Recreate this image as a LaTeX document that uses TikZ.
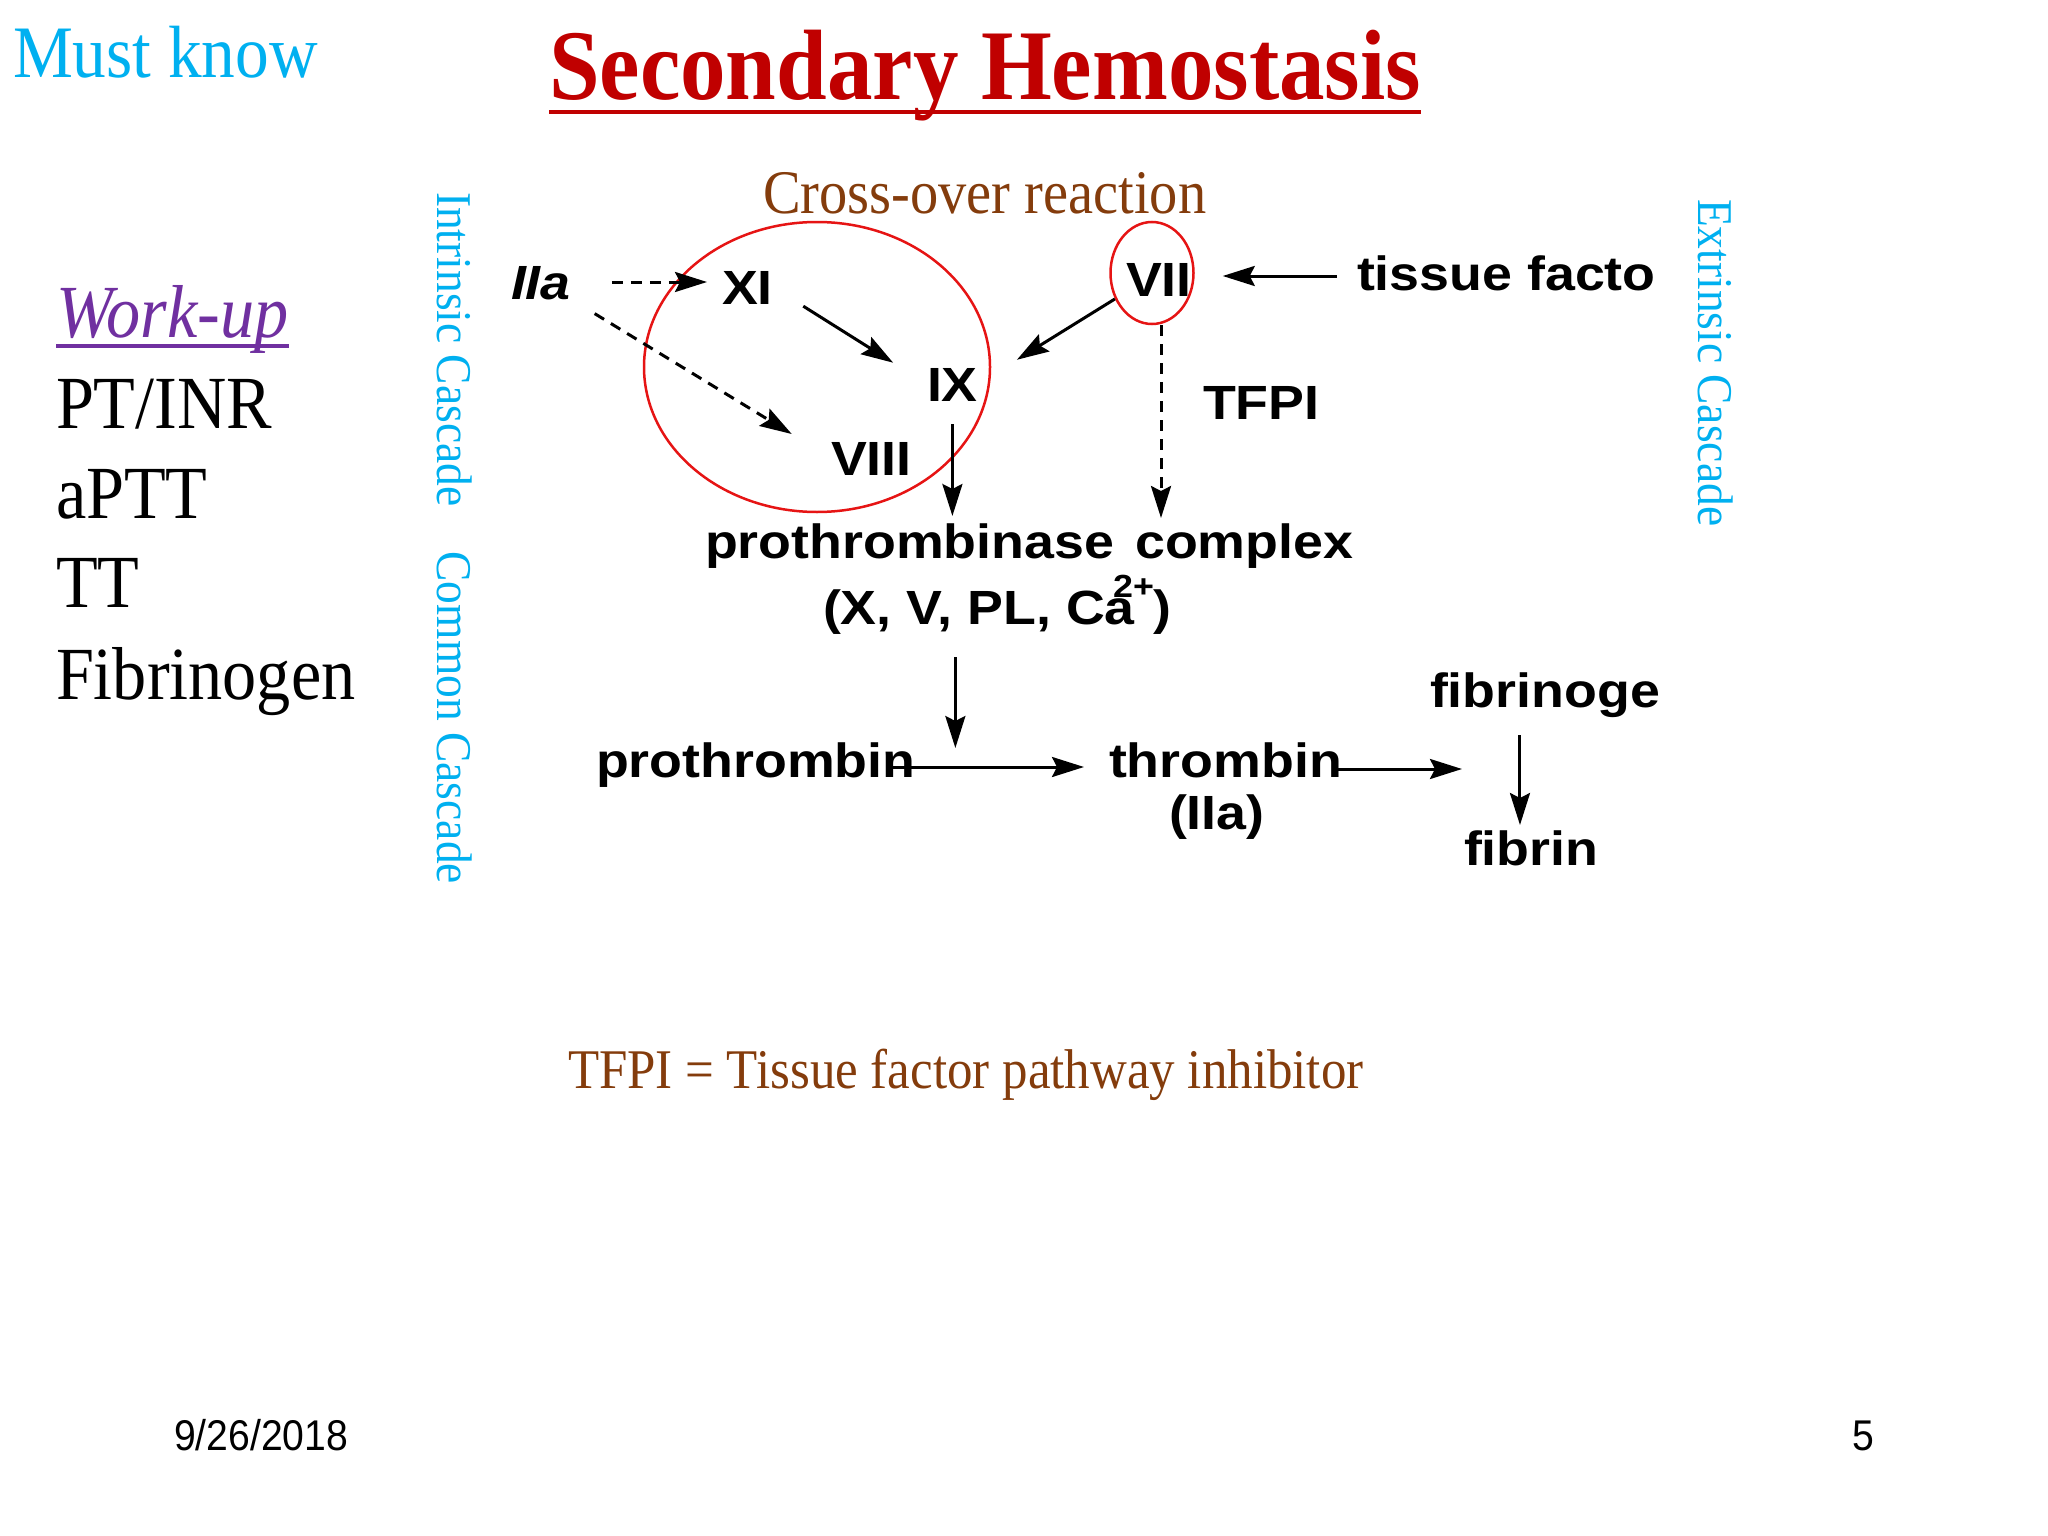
\documentclass[tikz,border=0pt]{standalone}
\usepackage{fontspec}
\setmainfont[FakeStretch=0.91]{Liberation Serif}
\newfontfamily\dfont[FakeStretch=1.12]{Liberation Sans}
\newfontfamily\ffont[FakeStretch=0.91]{Liberation Sans}
\usetikzlibrary{arrows.meta,shapes.geometric,calc}
\definecolor{cyanblue}{RGB}{0,176,240}
\definecolor{titlered}{RGB}{192,0,0}
\definecolor{wpurple}{RGB}{112,48,160}
\definecolor{rbrown}{RGB}{132,60,12}
\definecolor{ringred}{RGB}{230,20,20}
\begin{document}
\begin{tikzpicture}[x=1pt,y=-1pt,
  lbl/.style={inner sep=0pt, outer sep=0pt, anchor=base west},
  listtxt/.style={lbl, font=\fontsize{75}{80}\selectfont},
  dtxt/.style={lbl, font=\dfont\bfseries\fontsize{48}{52}\selectfont, text height=34pt, text depth=0pt},
  ring/.style={ellipse, draw=ringred, line width=2.5pt, inner sep=0pt},
  arr/.style={line width=3pt, -{Stealth[length=32pt,width=20pt,inset=5pt]}},
  darr/.style={arr, dash pattern=on 11pt off 8pt},
  foot/.style={lbl, font=\ffont\fontsize{43}{45}\selectfont}
]
\fill[white] (0,0) rectangle (2048,1536);

% header
\node[lbl, font=\fontsize{74}{80}\selectfont, text=cyanblue] (must) at (13,78) {Must know};
\node[lbl, font=\bfseries\fontsize{100}{104}\selectfont, text=titlered] (title) at (549,100) {Secondary Hemostasis};
\draw[titlered, line width=4.5pt] ($(title.base west)+(0,12)$) -- ($(title.base east)+(0,12)$);

% left list
\node[lbl, font=\itshape\fontsize{75}{80}\selectfont, text=wpurple] (workup) at (56,337) {Work-up};
\draw[wpurple, line width=3.5pt] ($(workup.base west)+(0,9)$) -- ($(workup.base east)+(0,9)$);
\node[listtxt] (ptinr) at (56,428) {PT/INR};
\node[listtxt] (aptt) at (56,518) {aPTT};
\node[listtxt] (tt) at (56,607) {TT};
\node[listtxt] (fibrinogen) at (56,699) {Fibrinogen};

% vertical labels
\node[lbl, rotate=-90, font=\fontsize{50}{52}\selectfont, text=cyanblue] (intr) at (437,192) {Intrinsic Cascade\hspace{45pt}Common Cascade};
\node[lbl, rotate=-90, font=\fontsize{50}{52}\selectfont, text=cyanblue] (extr) at (1698,199) {Extrinsic Cascade};

% captions
\node[lbl, font=\fontsize{62}{66}\selectfont, text=rbrown] (cross) at (763,213) {Cross-over reaction};
\node[lbl, font=\fontsize{56}{60}\selectfont, text=rbrown] (legend) at (568,1088) {TFPI = Tissue factor pathway inhibitor};

% diagram texts
\node[dtxt, font=\dfont\bfseries\itshape\fontsize{48}{52}\selectfont] (iia) at (511,299) {IIa};
\node[dtxt] (xi) at (722,304) {XI};
\node[dtxt] (ix) at (927,401) {IX};
\node[dtxt] (viii) at (831,475) {VIII};
\node[dtxt] (vii) at (1126,296) {VII};
\node[dtxt] (tissue) at (1357,290) {tissue facto};
\node[dtxt] (tfpi) at (1203,419) {TFPI};
\node[dtxt] (pc) at (705,558) {prothrombinase\hspace{6pt} complex};
\node[dtxt] (pc2) at (823,624) {(X, V, PL, Ca\kern-0.45em\raisebox{0.56em}{\fontsize{32}{34}\selectfont 2+})};
\node[dtxt] (prothrombin) at (596,777) {prothrombin};
\node[dtxt] (thrombin) at (1109,777) {thrombin};
\node[dtxt] (iia2) at (1169,829) {(IIa)};
\node[dtxt] (fibrinoge) at (1430,707) {fibrinoge};
\node[dtxt] (fibrin) at (1464,865) {fibrin};

% rings
\node[ring, minimum width=346pt, minimum height=290pt] (xring) at (817,367) {};
\node[ring, minimum width=83pt, minimum height=102pt] (viiring) at (1152,273) {};

% connectors
\draw[darr, shorten <=41pt, shorten >=15pt] (iia.east) -- (iia.east -| xi.west);
\draw[darr, shorten <=28pt, shorten >=46pt] (iia.south east) -- (viii.west);
\draw[arr, shorten <=36pt, shorten >=40pt] (xi.east) -- (ix.west);
\draw[arr, shorten >=46pt] (viiring.215) -- (ix.east);
\draw[arr, shorten <=20pt, shorten >=28pt] ($(tissue.west)+(0,3)$) -- ($(tissue.west -| viiring.east)+(0,3)$);
\draw[darr, shorten >=6pt] ($(viiring.south)+(9,0)$) -- ($(viiring.south |- pc.north)+(9,0)$);
\draw[arr, shorten <=23pt, shorten >=8pt] (ix.south) -- (ix.south |- pc.north);
\draw[arr, shorten >=25pt] ($(prothrombin.east)+(-26,7)$) -- coordinate[pos=0.3] (rxn) ($(thrombin.west)+(0,7)$);
\draw[arr, shorten <=33pt, shorten >=19pt] (pc2.south -| rxn) -- (rxn);
\draw[arr, shorten <=28pt, shorten >=6pt] ($(fibrinoge.south)+(-25,0)$) -- coordinate[pos=0.5] (fmid) ($(fibrinoge.south |- fibrin.north)+(-25,0)$);
\draw[arr, shorten >=58pt] ($(thrombin.east)+(-9,9)$) -- (fmid);

% footer
\node[foot] (date) at (174,1450) {9/26/2018};
\node[foot] (page) at (1852,1450) {5};
\end{tikzpicture}
\end{document}
